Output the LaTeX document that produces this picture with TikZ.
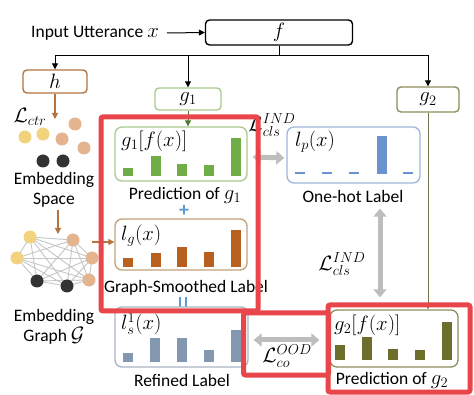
\documentclass[tikz,border=0pt]{standalone}
\usepackage{fontspec}
\setmainfont{Carlito}
\usetikzlibrary{arrows.meta,calc}
\definecolor{cgreen}{HTML}{70AD47}
\definecolor{cgreenL}{HTML}{A9C98E}
\definecolor{cbrown}{HTML}{B8601F}
\definecolor{cbrownL}{HTML}{C4A07C}
\definecolor{hbrown}{HTML}{B5743F}
\definecolor{cblue}{HTML}{6A93CF}
\definecolor{cblueL}{HTML}{9FB7DA}
\definecolor{cslate}{HTML}{8497B0}
\definecolor{cslateL}{HTML}{A9B4C4}
\definecolor{colive}{HTML}{6E6E2C}
\definecolor{coliveL}{HTML}{8E8E5E}
\definecolor{cred}{HTML}{E8464B}
\definecolor{cgray}{HTML}{BDBDBD}
\definecolor{cyellow}{HTML}{F2D27C}
\definecolor{ctan}{HTML}{E3B48E}
\definecolor{cdark}{HTML}{333333}
\definecolor{cplus}{HTML}{5B9BD5}
\begin{document}
\begin{tikzpicture}[x=1pt,y=-1pt,
  every node/.style={font=\fontsize{17.5}{20}\selectfont, inner sep=0pt},
  mlbl/.style={font=\fontsize{20}{22}\selectfont},
  box/.style={draw, rounded corners=4pt, line width=1.4pt, mlbl},
  panel/.style={draw, rounded corners=7pt, line width=1.3pt},
  redframe/.style={draw=cred, line width=5pt, rounded corners=2pt},
  arr/.style={-{Triangle[length=6pt,width=6pt]}, line width=1pt},
  grayarr/.style={{Triangle[length=8pt,width=13pt]}-{Triangle[length=8pt,width=13pt]}, line width=5pt, draw=cgray},
  dot/.style={circle, minimum size=13pt},
  lbl/.style={anchor=west, mlbl}]
\useasboundingbox (0,0) rectangle (474,395);
\fill[white] (0,0) rectangle (474,395);

% top row
\node (inp) at (95,33) {Input Utterance {\fontsize{20}{20}\selectfont$x$}};
\node[box, minimum width=147pt, minimum height=25pt] (f) at (279,32.5) {$f$};
\draw[arr] (inp.east) ++(8,0) coordinate (inpA) (inpA) -- (f.west);
\coordinate (split) at (279,56);
\node[box, draw=hbrown, minimum width=64pt, minimum height=23pt] (h) at (55,81.5) {$h$};
\node[box, draw=cgreenL, minimum width=66pt, minimum height=22pt] (g1) at (188,99) {$g_1$};
\node[box, draw=coliveL, minimum width=62pt, minimum height=25pt] (g2) at (428,99.5) {$g_2$};
\draw[line width=1pt] (f.south) -- (split);
\draw[arr] (split) -| (h.north);
\draw[arr] (split) -| (g2.north);
\draw[arr] (split -| g1.north) -- (g1.north);

% embedding space
\node[mlbl] at (30,117) {$\mathcal{L}_{ctr}$};
\coordinate (hend) at (55,119);
\draw[arr, draw=hbrown, line width=1.2pt] (h.south) -- (hend);
\node[dot, fill=cyellow] (e1) at (25,137) {};
\node[dot, fill=cyellow] (e2) at (43,134) {};
\node[dot, fill=ctan] (e3) at (62,139) {};
\node[dot, fill=ctan] (e4) at (75,124) {};
\node[dot, fill=ctan] (e5) at (84,148) {};
\node[dot, fill=cdark] (e6) at (43,161) {};
\node[dot, fill=cdark] (e7) at (63,161) {};
\node[align=center] (emb) at (54,190) {Embedding\\Space};
\coordinate (gin) at (58,234);
\draw[arr, draw=hbrown, line width=1.2pt] (emb.south) ++(4,2) coordinate (embS) (embS) -- (gin);

% graph
\coordinate (n1) at (30,237);
\coordinate (n2) at (17,258);
\coordinate (n3) at (73,240);
\coordinate (n4) at (92,258);
\coordinate (n5) at (89,280);
\coordinate (n6) at (37,281);
\coordinate (n7) at (67,286);
\foreach \a/\b in {n1/n3,n1/n4,n1/n5,n1/n6,n1/n7,n1/n2,n2/n3,n2/n4,n2/n5,n2/n6,n2/n7,n3/n4,n3/n5,n3/n6,n3/n7,n4/n5,n4/n6,n4/n7,n5/n6,n5/n7,n6/n7}
  \draw[cgray!85!black!60, line width=0.9pt] (\a) -- (\b);
\node[dot, fill=cyellow] (v1) at (n1) {};
\node[dot, fill=cyellow] (v2) at (n2) {};
\node[dot, fill=ctan] (v3) at (n3) {};
\node[dot, fill=ctan] (v4) at (n4) {};
\node[dot, fill=ctan] (v5) at (n5) {};
\node[dot, fill=cdark] (v6) at (n6) {};
\node[dot, fill=cdark] (v7) at (n7) {};
\node[align=center] (gr) at (54,327) {Embedding\\Graph {\fontsize{20}{20}\selectfont$\mathcal{G}$}};

% prediction g1 panel
\node[panel, draw=cgreenL, minimum width=132pt, minimum height=54pt] (p1) at (181,154) {};
\node[lbl] at (121,141) {$g_1[f(x)]$};
\foreach \x/\t in {123/168,151/156,177/164,204/165,231/138}
  \fill[cgreen] (\x,176.5) rectangle (\x+10,\t);
\node (p1t) at (185,195) {Prediction of {\fontsize{20}{20}\selectfont$g_1$}};
\draw[arr, draw=cgreen!70!black, line width=1pt] (g1.south) -- (g1.south |- p1.north);
\node[text=cplus, font=\fontsize{20}{20}\selectfont\bfseries] (plus) at (184,211) {+};

% graph smoothed panel
\node[panel, draw=cbrownL, minimum width=132pt, minimum height=51pt] (lg) at (181,244.5) {};
\node[lbl] at (121,236) {$l_g(x)$};
\foreach \x/\t in {123/258,151/253,177/247,204/252,231/230}
  \fill[cbrown] (\x,267) rectangle (\x+10,\t);
\node (lgt) at (186,288) {Graph-Smoothed Label};
\coordinate (gout) at (92,242);
\draw[arr, draw=hbrown, line width=1.2pt] (gout) -- (gout -| lg.west);
\node (eq) at (183,302) {};
\draw[cplus, line width=2pt] (180,297) -- (180,307) (186,297) -- (186,307);

% refined label panel
\node[panel, draw=cslateL, minimum width=133pt, minimum height=60pt] (ref) at (181.5,337) {};
\node[lbl] at (121,324) {$l_s^1(x)$};
\foreach \x/\t in {123/353,150/338,177/338,204/350,231/330}
  \fill[cslate] (\x,362) rectangle (\x+10,\t);
\node (reft) at (182,380) {Refined Label};

% one-hot panel
\node[panel, draw=cblueL, minimum width=133pt, minimum height=56pt] (oh) at (353.5,155) {};
\node[lbl] at (295,142) {$l_p(x)$};
\foreach \x in {295,322,349,403}
  \draw[cblue, line width=2.5pt] (\x,173) -- (\x+10,173);
\fill[cblue] (377,174) rectangle (387,136);
\node (oht) at (353,196) {One-hot Label};

% prediction g2 panel
\node[panel, draw=coliveL, minimum width=128pt, minimum height=57pt] (p2) at (394,338.5) {};
\node[lbl] at (334,325) {$g_2[f(x)]$};
\foreach \x/\t in {335/345,362/337,388/349,415/350,442/322}
  \fill[colive] (\x,360) rectangle (\x+10,\t);
\node (p2t) at (392,380) {Prediction of {\fontsize{20}{20}\selectfont$g_2$}};
\draw[arr, draw=coliveL!80!black, line width=1pt] (g2.south) -- (p2.north -| g2.south);

% gray loss arrows
\node[mlbl] at (272,125) {$\mathcal{L}_{cls}^{IND}$};
\draw[grayarr] ($(p1.east)+(5,3)$) -- ($(oh.west)+(-2,3)$);
\coordinate (vx) at (380,0);
\draw[grayarr] ($(oh.south -| vx)+(0,25)$) -- ($(p2.north -| vx)+(0,-12)$);
\node[mlbl] at (342,264) {$\mathcal{L}_{cls}^{IND}$};
\draw[grayarr] ($(ref.east)+(5,3)$) -- ($(ref.east -| p2.west)+(-10,3)$);
\node[mlbl] at (287,356) {$\mathcal{L}_{co}^{OOD}$};

% red highlight frames
\node[redframe, minimum width=157pt, minimum height=194pt] (r1) at (179.5,214) {};
\node[redframe, minimum width=85pt, minimum height=62pt] (r2) at (286,344) {};
\node[redframe, minimum width=142pt, minimum height=87pt] (r3) at (399,348.5) {};
\end{tikzpicture}
\end{document}
